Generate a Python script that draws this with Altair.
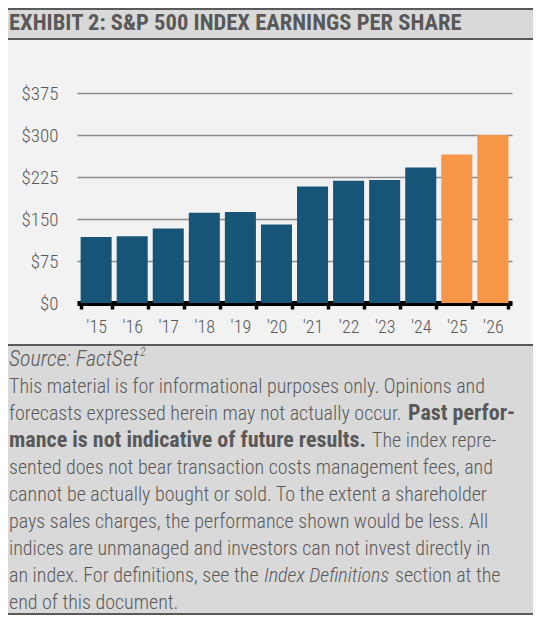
import altair as alt
import pandas as pd

# ---------------- data ----------------
years = ["'15", "'16", "'17", "'18", "'19", "'20", "'21", "'22", "'23", "'24", "'25", "'26"]
eps = [118, 119, 133, 161, 162.5, 140, 208, 218.5, 219.5, 242, 265, 300]
kind = ["Actual", "Actual", "Actual", "Actual", "Actual", "Actual",
        "Actual", "Actual", "Actual", "Actual", "Estimate", "Estimate"]
y_ticks = [0, 75, 150, 225, 300, 375]

title_text = "EXHIBIT 2: S&P 500 INDEX EARNINGS PER SHARE"

df = pd.DataFrame({"year": years, "eps": eps, "kind": kind})

# ---------------- layout ----------------
W, H = 525, 607
PL, PT = 69, 85
PW, PH = 435, 210
PR = W - PL - PW
PB = H - PT - PH

FONT = "Roboto Condensed"
TXT = "#595959"
BLUE = "#165478"
ORANGE = "#F79646"
BAND = "#d9d9d9"
DARK = "#5a5a5a"
FS = 20
FB = 22
LW = 300

one = pd.DataFrame({"k": [0]})


def rect(x0, y0, x1, y1, color):
    return alt.Chart(one).mark_rect(color=color).encode(
        x=alt.value(x0 - PL), x2=alt.value(x1 - PL),
        y=alt.value(y0 - PT), y2=alt.value(y1 - PT))


def txt(x, y, s, size=FS, weight=LW, style="normal", color=TXT, align="left"):
    return alt.Chart(one).mark_text(
        text=s, align=align, baseline="alphabetic", font=FONT,
        fontSize=size, fontWeight=weight, fontStyle=style, color=color
    ).encode(x=alt.value(x - PL), y=alt.value(y - PT))


decor = [
    rect(0, 0, W, 32, BAND),
    rect(0, 0, W, 2, DARK),
    rect(0, 30, W, 32, DARK),
    rect(523, 32, 524, 336, "#ffffff"),
    rect(0, 336, W, H, BAND),
    rect(0, 336, W, 338, DARK),
    rect(0, 605, W, H, DARK),
]

bars = alt.Chart(df).mark_bar().encode(
    x=alt.X("year:N", sort=years, title=None,
            scale=alt.Scale(paddingInner=0.14, paddingOuter=0.1),
            axis=alt.Axis(labelAngle=0, labelFont=FONT, labelFontSize=18,
                          labelFontWeight=LW,
                          labelColor=TXT, labelPadding=9,
                          domainColor="black", domainWidth=5,
                          tickColor="black", tickSize=6, tickWidth=3.5,
                          tickBand="extent", grid=False)),
    y=alt.Y("eps:Q", title=None,
            scale=alt.Scale(domain=[0, 375], nice=False),
            axis=alt.Axis(values=y_ticks, format="$.0f", labelFont=FONT,
                          labelFontSize=19, labelFontWeight=LW,
                          labelColor=TXT, labelPadding=19,
                          ticks=False, tickSize=0, domain=False,
                          gridColor="#8c8c8c", gridWidth=1.4)),
    color=alt.Color("kind:N", legend=None,
                    scale=alt.Scale(domain=["Actual", "Estimate"], range=[BLUE, ORANGE])),
)

LX = 1
LH = 27.0
B0 = 358
lines = [
    txt(LX, 22, title_text, size=22.6, weight="bold"),
    txt(LX, B0, "Source: FactSet", size=22, style="italic"),
    txt(132, B0 - 10, "2", size=12, style="italic"),
    txt(LX, B0 + LH * 1, "This material is for informational purposes only. Opinions and"),
    txt(LX, B0 + LH * 2, "forecasts expressed herein may not actually occur."),
    txt(400, B0 + LH * 2, "Past perfor-", size=FB, weight="bold"),
    txt(LX, B0 + LH * 3, "mance is not indicative of future results.", size=FB, weight="bold"),
    txt(364, B0 + LH * 3, "The index repre-"),
    txt(LX, B0 + LH * 4, "sented does not bear transaction costs management fees, and"),
    txt(LX, B0 + LH * 5, "cannot be actually bought or sold. To the extent a shareholder"),
    txt(LX, B0 + LH * 6, "pays sales charges, the performance shown would be less. All"),
    txt(LX, B0 + LH * 7, "indices are unmanaged and investors can not invest directly in"),
    txt(LX, B0 + LH * 8, "an index. For definitions, see the"),
    txt(256, B0 + LH * 8, "Index Definitions", style="italic"),
    txt(387, B0 + LH * 8, "section at the"),
    txt(LX, B0 + LH * 9, "end of this document."),
]

chart = alt.layer(*decor, bars, *lines).properties(
    width=PW, height=PH,
    autosize=alt.AutoSizeParams(type="none"),
    padding={"left": PL, "top": PT, "right": PR, "bottom": PB},
).configure(background="#f2f2f2").configure_view(stroke=None)

chart.save("out.html", embed_options={"renderer": "svg", "actions": False})
